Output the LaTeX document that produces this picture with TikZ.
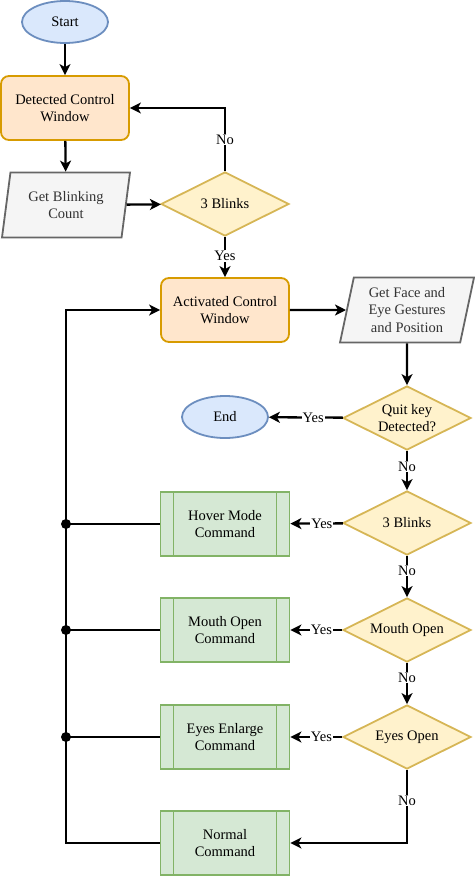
\documentclass[tikz,border=0pt]{standalone}
\usepackage{xcolor}
\usepackage{fontspec}
\setmainfont{Liberation Serif}
\usepackage{tikz}
\usetikzlibrary{shapes.geometric,arrows.meta}

\definecolor{bluefill}{HTML}{DAE8FC}
\definecolor{blueline}{HTML}{6C8EBF}
\definecolor{orangefill}{HTML}{FFE6CC}
\definecolor{orangeline}{HTML}{D79B00}
\definecolor{grayfill}{HTML}{F5F5F5}
\definecolor{grayline}{HTML}{666666}
\definecolor{graytext}{HTML}{333333}
\definecolor{yellowfill}{HTML}{FFF2CC}
\definecolor{yellowline}{HTML}{D6B656}
\definecolor{greenfill}{HTML}{D5E8D4}
\definecolor{greenline}{HTML}{82B366}

\begin{document}
\begin{tikzpicture}[x=1pt, y=-1pt,
  font=\fontsize{14.5}{17.5}\selectfont,
  term/.style={ellipse, draw=blueline, fill=bluefill, line width=1.8pt,
    minimum width=86pt, minimum height=42pt, inner sep=0pt},
  proc/.style={rectangle, rounded corners=8pt, draw=orangeline, fill=orangefill,
    line width=1.8pt, minimum width=128pt, minimum height=64pt, align=center},
  io/.style={trapezium, trapezium left angle=73, trapezium right angle=107,
    trapezium stretches body, draw=grayline, fill=grayfill, text=graytext,
    line width=1.8pt, minimum width=128pt, minimum height=65pt, inner sep=0pt,
    align=center},
  choice/.style={diamond, aspect=2, draw=yellowline, fill=yellowfill,
    line width=1.8pt, minimum width=128pt, minimum height=64pt, inner sep=0pt,
    align=center},
  cmd/.style={rectangle, draw=greenline, fill=greenfill, line width=1.8pt,
    minimum width=129pt, minimum height=64pt, align=center,
    path picture={
      \draw[greenline, line width=1.8pt]
        ([xshift=13pt]path picture bounding box.north west) --
        ([xshift=13pt]path picture bounding box.south west);
      \draw[greenline, line width=1.8pt]
        ([xshift=-13pt]path picture bounding box.north east) --
        ([xshift=-13pt]path picture bounding box.south east);}},
  flow/.style={line width=2.3pt, -{Stealth[length=11pt,width=11pt,inset=3pt]}},
  lbl/.style={fill=white, inner sep=1pt}]

  \useasboundingbox (0,0) rectangle (474,878);

  % left part
  \node[term] (start) at (65,22) {Start};
  \node[proc] (detect) at (65,108) {Detected Control\\Window};
  \node[io] (blinkcount) at (66,205) {Get Blinking\\Count};
  \node[choice] (blinksA) at (225,204) {3 Blinks};
  \node[proc] (activ) at (225,310) {Activated Control\\Window};

  % right column
  \node[io, minimum width=134pt] (getface) at (407,310) {Get Face and\\Eye Gestures\\and Position};
  \node[choice] (quit) at (407,418) {Quit key\\Detected?};
  \node[term] (stop) at (225,417) {End};
  \node[choice] (blinksB) at (407,523) {3 Blinks};
  \node[choice] (mouth) at (407,630) {Mouth Open};
  \node[choice] (eyes) at (407,737) {Eyes Open};

  % commands
  \node[cmd] (hovercmd) at (225,524) {Hover Mode\\Command};
  \node[cmd] (mouthcmd) at (225,630) {Mouth Open\\Command};
  \node[cmd] (eyescmd) at (225,737) {Eyes Enlarge\\Command};
  \node[cmd] (normalcmd) at (225,843) {Normal\\Command};

  \coordinate (jA) at (66,524);
  \coordinate (jB) at (66,630);
  \coordinate (jC) at (66,737);
  \coordinate (jD) at (66,843);

  \draw[flow] (start) -- (detect);
  \draw[flow] (detect) -- (blinkcount);
  \draw[flow] (blinkcount) -- (blinksA);
  \draw[flow] (blinksA.north) |- node[lbl, pos=0.25] {No} (detect.east);
  \draw[flow] (blinksA) -- node[lbl, pos=0.47] {Yes} (activ);
  \draw[flow] (activ) -- (getface);
  \draw[flow] (getface.south) -- (quit.north);
  \draw[flow] (quit) -- node[lbl, pos=0.4] {Yes} (stop);
  \draw[flow] (quit) -- node[lbl, pos=0.4] {No} (blinksB);
  \draw[flow] (blinksB) -- node[lbl, pos=0.4] {Yes} (hovercmd);
  \draw[flow] (blinksB) -- node[lbl, pos=0.35] {No} (mouth);
  \draw[flow] (mouth) -- node[lbl, pos=0.4] {Yes} (mouthcmd);
  \draw[flow] (mouth) -- node[lbl, pos=0.35] {No} (eyes);
  \draw[flow] (eyes) -- node[lbl, pos=0.4] {Yes} (eyescmd);
  \draw[flow] (eyes.south) |- node[lbl, pos=0.21] {No} (normalcmd.east);

  % loop back
  \draw[line width=2.3pt] (hovercmd.west) -- (jA);
  \draw[line width=2.3pt] (mouthcmd.west) -- (jB);
  \draw[line width=2.3pt] (eyescmd.west) -- (jC);
  \draw[flow] (normalcmd.west) -- (jD) |- (activ.west);
  \foreach \j in {jA,jB,jC}
    \fill (\j) circle (5);
\end{tikzpicture}
\end{document}
